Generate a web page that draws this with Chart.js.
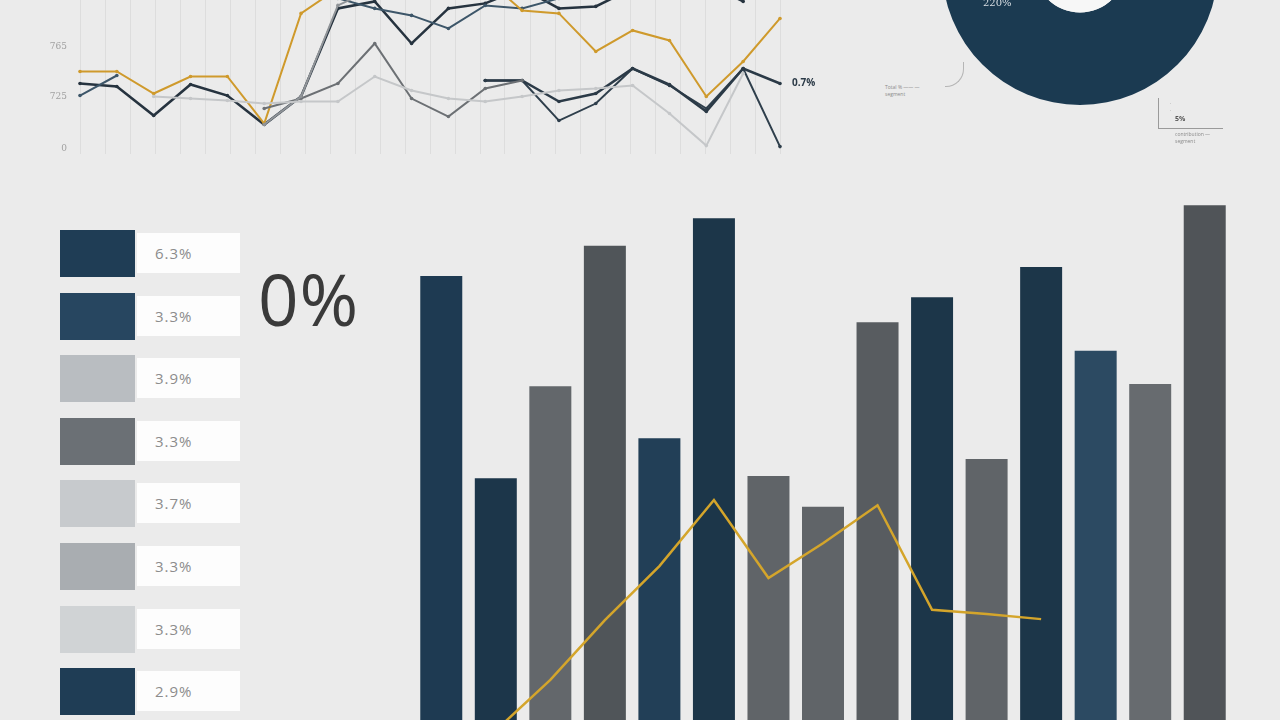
<!DOCTYPE html>
<html>
<head>
<meta charset="utf-8">
<script src="https://cdn.jsdelivr.net/npm/chart.js@4.4.1/dist/chart.umd.min.js"></script>
<style>
body{margin:0;width:1280px;height:720px;background:#ebebeb;overflow:hidden;position:relative;font-family:"Open Sans",sans-serif}
.box{position:absolute}
.swatch{position:absolute;left:60px;width:75px;height:47px}
.tag{position:absolute;left:137px;width:103px;height:40px;background:#fdfdfd;color:#8c8c8c;font-size:15px;line-height:40px;text-indent:18px;letter-spacing:1px}
.big{position:absolute;left:258px;top:250px;font-size:71px;color:#3a3a3a;letter-spacing:1px}
.tiny{position:absolute;font-size:5px;color:#8a8a8a;line-height:7px;white-space:nowrap}
</style>
</head>
<body>
<div class="box" style="left:50px;top:-12px;width:790px;height:176px"><canvas id="lineChart"></canvas></div>
<div class="box" style="left:942px;top:-171px;width:276px;height:276px"><canvas id="donutChart"></canvas></div>
<div id="legendList"></div>
<div class="big">0%</div>
<div class="box" style="left:414px;top:200px;width:818px;height:520px"><canvas id="barChart"></canvas></div>

<div class="tiny" style="left:885px;top:84px">Total % —— —<br>segment</div>
<div class="box" style="left:945px;top:62px;width:18px;height:24px;border-right:1px solid #b5b5b5;border-bottom:1px solid #b5b5b5;border-bottom-right-radius:18px"></div>
<div class="box" style="left:1158px;top:98px;width:64px;height:30px;border-left:1px solid #9a9a9a;border-bottom:1px solid #9a9a9a"></div>
<div class="tiny" style="left:1170px;top:100px">·<br>·</div>
<div class="tiny" style="left:1175px;top:115px;font-size:7px;color:#555;font-weight:bold">5%</div>
<div class="tiny" style="left:1175px;top:131px">contribution —<br>segment</div>

<script>
// top line chart (values = distance above the baseline)
const lineLabels = ['1','2','3','4','5','6','7','8','9','10','11','12','13','14','15','16','17','18','19','20'];
const yTickValues = [0, 52, 102];
const yTickLabels = ['0', '725', '765'];
const goldSeries  = [77,77,55,72,72,25,135,160,175,180,175,170,138,135,97,118,108,52,87,130];
const navyA       = [65,62,33,64,53,24,52,140,147,105,140,145,160,140,142,160,165,165,147,null];
const navyB       = [53,73,null,null,null,null,null,150,140,133,120,143,140,150,155,null,null,null,null,null];
const navyC       = [null,null,null,null,null,null,null,null,null,null,null,68,68,47,55,80,64,37,80,65];
const navyD       = [null,null,null,null,null,null,null,null,null,null,null,68,68,28,45,80,63,40,80,2];
const grayDark    = [null,null,null,null,null,40,50,65,105,50,32,60,68,null,null,null,null,null,null,null];
const grayMid     = [null,null,null,null,null,24,52,143,160,165,null,null,null,null,null,null,null,null,null,null];
const grayLight   = [null,null,52,50,48,45,47,47,72,58,50,47,52,58,60,63,35,3,75,null];
const endLabel = '0.7%';

// donut
const donutLabels = ['220%'];
const donutValues = [100];

// legend list
const legendLabels = ['6.3%','3.3%','3.9%','3.3%','3.7%','3.3%','3.3%','2.9%'];
const legendColors = ['#1f3d55','#274660','#b9bdc1','#6b7075','#c7cacd','#a9adb1','#d0d3d5','#1f3d55'];

// bottom bar chart
const barLabels = ['A','B','C','D','E','F','G','H','I','J','K','L','M','N','O'];
const barValues = [85.4,46.5,64.2,91.2,54.2,96.5,46.9,41.0,76.5,81.3,50.2,87.1,71.0,64.6,99.0];
const barColors = ['#1e3a52','#1c364a','#63676b','#505559','#223f57','#1c3649','#606468','#606468','#585c60','#1c3649','#606468','#1c3649','#2c4a62','#676b6f','#505458'];
const goldLine  = [null,-2,7.7,19.2,29.6,42.3,27.3,34.0,41.3,21.2,20.4,19.4,null,null,null];

function ds(data, color, width) {
    return {data: data, borderColor: color, borderWidth: width, pointRadius: 1.8,
        pointBackgroundColor: color, pointBorderWidth: 0, tension: 0, spanGaps: false, fill: false};
}

const endLabelPlugin = {
    id: 'endLabel',
    afterDatasetsDraw(chart) {
        const meta = chart.getDatasetMeta(4);
        const pt = meta.data[meta.data.length - 1];
        const c = chart.ctx;
        c.save();
        c.fillStyle = '#2b3a47';
        c.font = 'bold 10px "Open Sans"';
        c.textBaseline = 'middle';
        c.fillText(endLabel, pt.x + 12, pt.y);
        c.restore();
    }
};

new Chart(document.getElementById('lineChart'), {
    type: 'line',
    data: {
        labels: lineLabels,
        datasets: [
            ds(grayLight, '#c5c7c9', 2),
            ds(grayMid, '#909498', 2),
            ds(grayDark, '#6c7074', 2),
            ds(goldSeries, '#cf9a2c', 2),
            ds(navyC, '#2b3a47', 2.5),
            ds(navyD, '#2f3f4c', 2),
            ds(navyB, '#3d5669', 2),
            ds(navyA, '#26333f', 2.5)
        ]
    },
    options: {
        responsive: true,
        maintainAspectRatio: false,
        animation: false,
        layout: {padding: {left: 0, right: 60, top: 0, bottom: 0}},
        plugins: {legend: {display: false}, tooltip: {enabled: false}},
        scales: {
            x: {offset: false, grid: {display: false, drawTicks: false}, ticks: {display: false}, border: {display: false}},
            xg: {type: 'linear', position: 'bottom', min: 0, max: 28,
                grid: {color: '#dddddd', drawTicks: false},
                ticks: {display: false, stepSize: 1, maxTicksLimit: 40}, border: {display: false}},
            y: {
                min: -5, max: 150,
                afterFit(s) { s.width = 30; },
                afterBuildTicks(s) { s.ticks = yTickValues.map(v => ({value: v})); },
                ticks: {callback: (v, i) => yTickLabels[i], color: '#a0a0a0', font: {size: 9, family: 'DejaVu Serif'}, padding: 5},
                grid: {display: false},
                border: {display: false}
            }
        }
    },
    plugins: [endLabelPlugin]
});

const holePlugin = {
    id: 'hole',
    afterDatasetsDraw(chart) {
        const arc = chart.getDatasetMeta(0).data[0];
        const c = chart.ctx;
        c.save();
        c.fillStyle = '#f7f7f7';
        c.beginPath();
        c.arc(arc.x, arc.y, arc.innerRadius, 0, Math.PI * 2);
        c.fill();
        c.fillStyle = '#d8dee3';
        c.font = '10px "DejaVu Serif"';
        c.fillText(donutLabels[0], arc.x - 97, arc.y + 39);
        c.restore();
    }
};

new Chart(document.getElementById('donutChart'), {
    type: 'doughnut',
    data: {labels: donutLabels, datasets: [{data: donutValues, backgroundColor: '#1b3a51', borderWidth: 0}]},
    options: {
        responsive: true, maintainAspectRatio: false, animation: false, cutout: '33%',
        layout: {padding: 0},
        plugins: {legend: {display: false}, tooltip: {enabled: false}}
    },
    plugins: [holePlugin]
});

// legend rows
var list = document.getElementById('legendList');
legendLabels.forEach(function(lbl, i) {
    var top = 230 + i * 62.6;
    var sw = document.createElement('div');
    sw.className = 'swatch';
    sw.style.top = top + 'px';
    sw.style.background = legendColors[i];
    list.appendChild(sw);
    var tg = document.createElement('div');
    tg.className = 'tag';
    tg.style.top = (top + 3) + 'px';
    tg.textContent = lbl;
    list.appendChild(tg);
});

new Chart(document.getElementById('barChart'), {
    data: {
        labels: barLabels,
        datasets: [
            {type: 'line', data: goldLine, borderColor: '#d4a52b', borderWidth: 2.5, pointRadius: 0, tension: 0, order: 0},
            {type: 'bar', data: barValues, backgroundColor: barColors, barPercentage: 0.77, categoryPercentage: 1, order: 1}
        ]
    },
    options: {
        responsive: true, maintainAspectRatio: false, animation: false,
        layout: {padding: 0},
        plugins: {legend: {display: false}, tooltip: {enabled: false}},
        scales: {
            x: {display: false},
            y: {display: false, min: 0, max: 100}
        }
    }
});
</script>
</body>
</html>
